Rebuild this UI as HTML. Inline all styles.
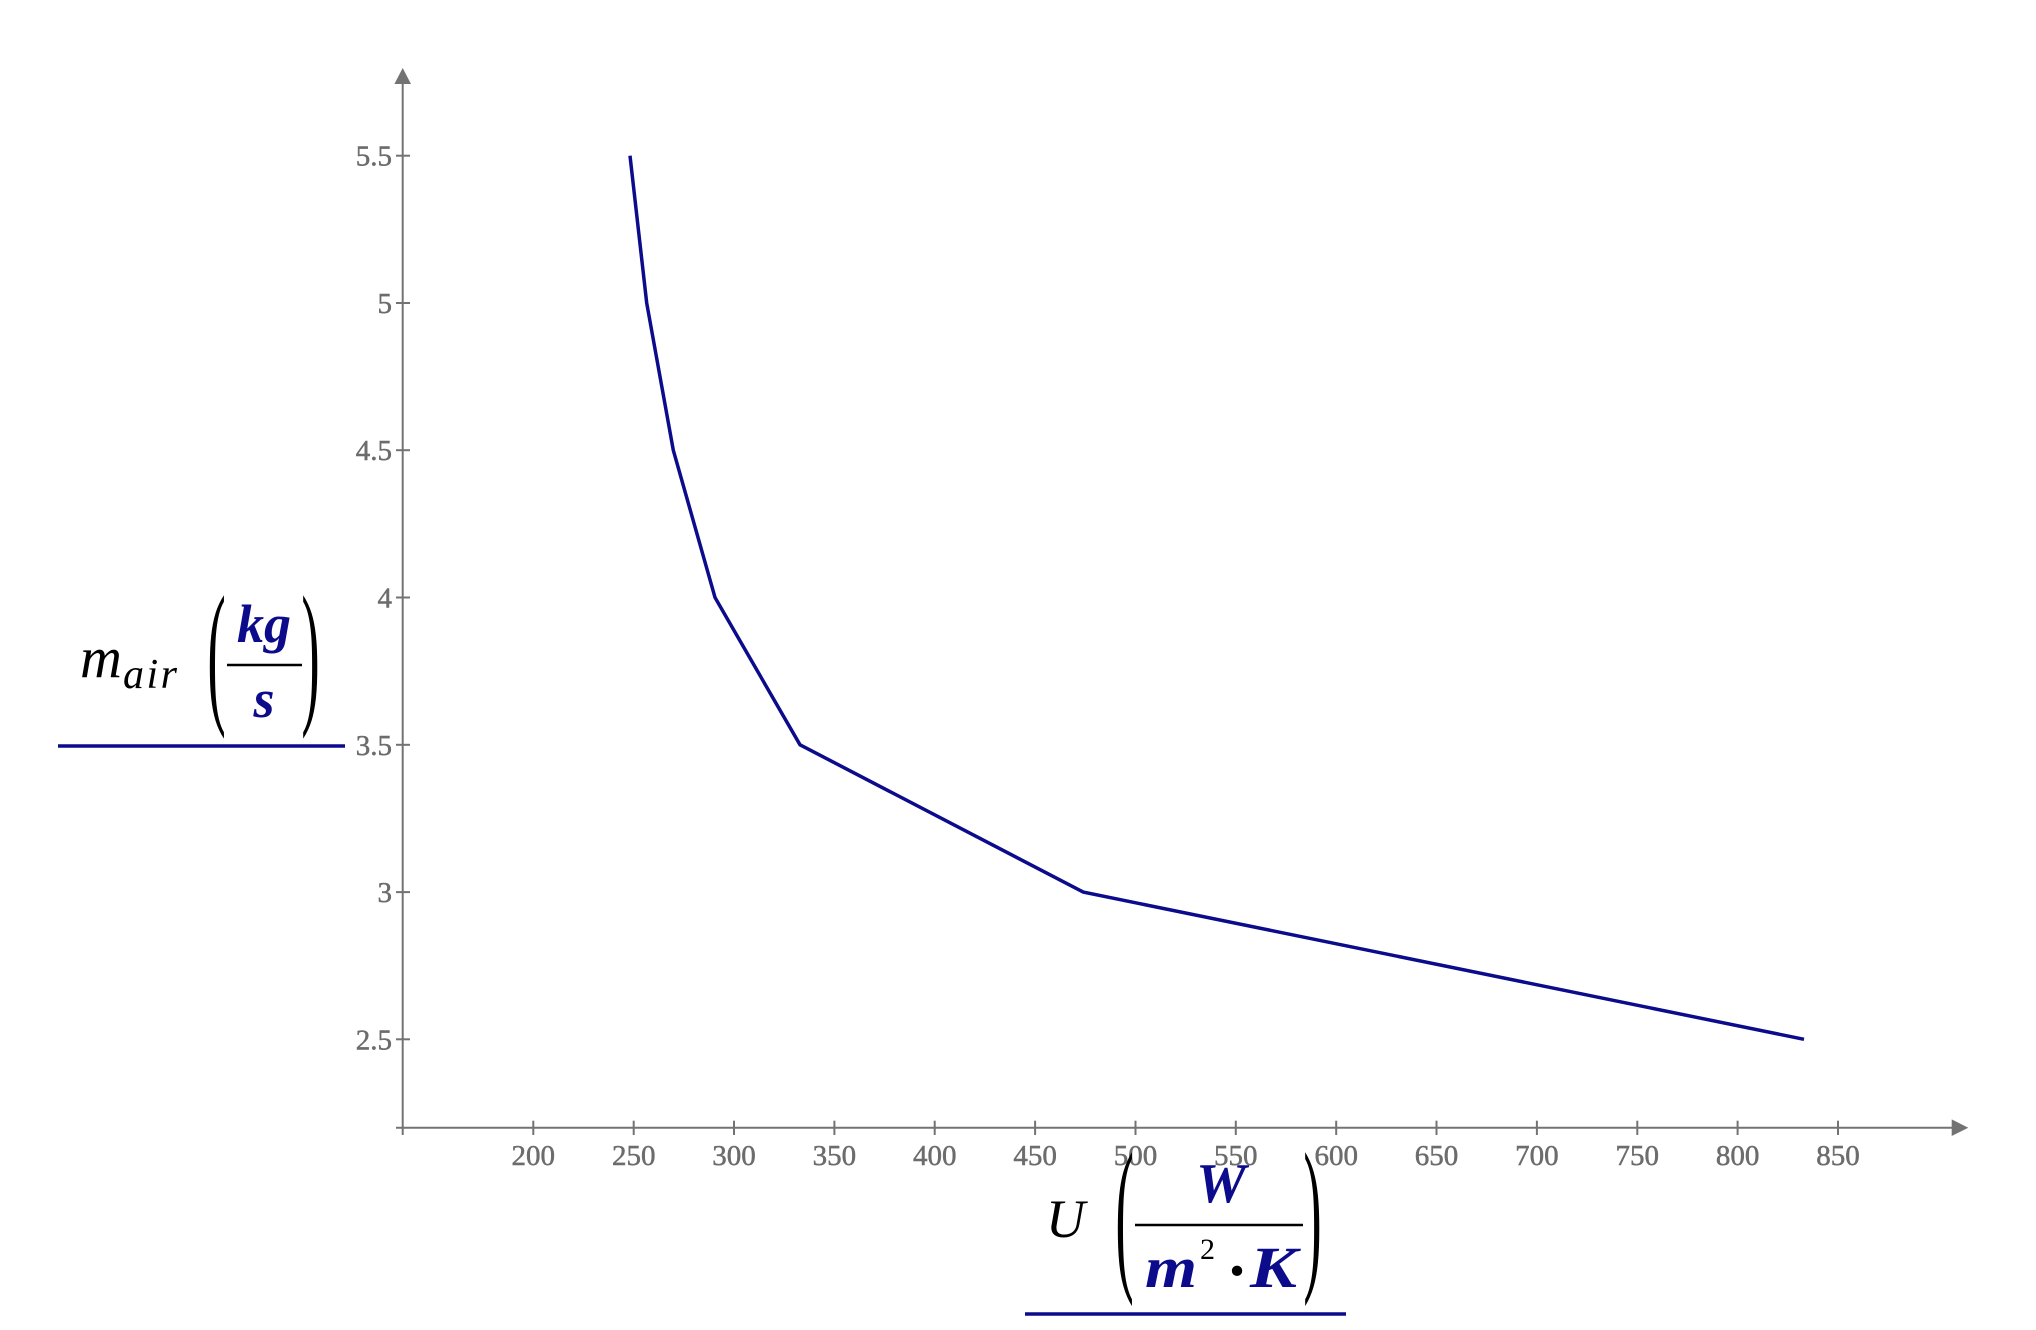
<!DOCTYPE html>
<html>
<head>
<meta charset="utf-8">
<style>
html,body{margin:0;padding:0;background:#ffffff;}
body{width:2036px;height:1330px;overflow:hidden;}
svg{display:block;}
</style>
</head>
<body>
<svg width="2036" height="1330" viewBox="0 0 2036 1330" xmlns="http://www.w3.org/2000/svg">
<rect x="0" y="0" width="2036" height="1330" fill="#ffffff"/>
<g stroke="#737373" stroke-width="2" fill="none">
  <line x1="402.7" y1="80" x2="402.7" y2="1135"/>
  <line x1="396" y1="1127.7" x2="1955" y2="1127.7"/>
  <line x1="396" y1="155.7" x2="410" y2="155.7"/>
  <line x1="396" y1="303" x2="410" y2="303"/>
  <line x1="396" y1="450.2" x2="410" y2="450.2"/>
  <line x1="396" y1="597.5" x2="410" y2="597.5"/>
  <line x1="396" y1="744.8" x2="410" y2="744.8"/>
  <line x1="396" y1="892.1" x2="410" y2="892.1"/>
  <line x1="396" y1="1039.3" x2="410" y2="1039.3"/>
  <line x1="533.3" y1="1120.7" x2="533.3" y2="1135"/>
  <line x1="633.7" y1="1120.7" x2="633.7" y2="1135"/>
  <line x1="734.0" y1="1120.7" x2="734.0" y2="1135"/>
  <line x1="834.4" y1="1120.7" x2="834.4" y2="1135"/>
  <line x1="934.7" y1="1120.7" x2="934.7" y2="1135"/>
  <line x1="1035.1" y1="1120.7" x2="1035.1" y2="1135"/>
  <line x1="1135.5" y1="1120.7" x2="1135.5" y2="1135"/>
  <line x1="1235.8" y1="1120.7" x2="1235.8" y2="1135"/>
  <line x1="1336.2" y1="1120.7" x2="1336.2" y2="1135"/>
  <line x1="1436.5" y1="1120.7" x2="1436.5" y2="1135"/>
  <line x1="1536.9" y1="1120.7" x2="1536.9" y2="1135"/>
  <line x1="1637.3" y1="1120.7" x2="1637.3" y2="1135"/>
  <line x1="1737.6" y1="1120.7" x2="1737.6" y2="1135"/>
  <line x1="1838.0" y1="1120.7" x2="1838.0" y2="1135"/>
</g>
<polygon points="402.7,68 394.4,84 411,84" fill="#737373"/>
<polygon points="1968.3,1127.7 1951.7,1119.4 1951.7,1136" fill="#737373"/>

<g font-family="'Liberation Serif', serif" font-size="29" fill="#6c6c6c" stroke="#6c6c6c" stroke-width="0.5" text-anchor="end">
  <text x="392" y="165.7">5.5</text>
  <text x="392" y="313">5</text>
  <text x="392" y="460.2">4.5</text>
  <text x="392" y="607.5">4</text>
  <text x="392" y="754.8">3.5</text>
  <text x="392" y="902.1">3</text>
  <text x="392" y="1049.3">2.5</text>
</g>
<g font-family="'Liberation Serif', serif" font-size="29" fill="#6c6c6c" stroke="#6c6c6c" stroke-width="0.5" text-anchor="middle">
  <text x="533.3" y="1165">200</text>
  <text x="633.7" y="1165">250</text>
  <text x="734.0" y="1165">300</text>
  <text x="834.4" y="1165">350</text>
  <text x="934.7" y="1165">400</text>
  <text x="1035.1" y="1165">450</text>
  <text x="1135.5" y="1165">500</text>
  <text x="1235.8" y="1165">550</text>
  <text x="1336.2" y="1165">600</text>
  <text x="1436.5" y="1165">650</text>
  <text x="1536.9" y="1165">700</text>
  <text x="1637.3" y="1165">750</text>
  <text x="1737.6" y="1165">800</text>
  <text x="1838.0" y="1165">850</text>
</g>

<polyline points="630,155.7 646.7,303 673.3,450.2 715,597.5 800,744.8 1083.3,892.1 1804,1039.3" fill="none" stroke="#0b0b8c" stroke-width="3.5" stroke-linejoin="miter"/>

<!-- Y legend -->
<g font-family="'Liberation Serif', serif">
  <text x="80" y="677" font-style="italic" font-size="58" fill="#000">m</text>
  <text x="123" y="688" font-style="italic" font-size="42" fill="#000" textLength="54" lengthAdjust="spacing">air</text>
  <text transform="translate(207.4,705) scale(1,2.877)" font-size="55" fill="#000">(</text>
  <text transform="translate(301.4,705) scale(1,2.877)" font-size="55" fill="#000">)</text>
  <text x="264" y="642" font-style="italic" font-weight="bold" font-size="54" fill="#0b0b8c" text-anchor="middle">kg</text>
  <text x="264" y="717" font-style="italic" font-weight="bold" font-size="54" fill="#0b0b8c" text-anchor="middle">s</text>
</g>
<line x1="227" y1="665" x2="302" y2="665" stroke="#000" stroke-width="2.5"/>
<line x1="58" y1="746" x2="345" y2="746" stroke="#0b0b8c" stroke-width="3.5"/>

<!-- X legend -->
<g font-family="'Liberation Serif', serif">
  <text x="1046" y="1237" font-style="italic" font-size="54" fill="#000">U</text>
  <text transform="translate(1115.4,1270) scale(1,3.09)" font-size="55" fill="#000">(</text>
  <text transform="translate(1303.4,1270) scale(1,3.09)" font-size="55" fill="#000">)</text>
  <text x="1221" y="1202" font-style="italic" font-weight="bold" font-size="56" fill="#0b0b8c" text-anchor="middle">W</text>
  <text x="1145" y="1287" font-style="italic" font-weight="bold" font-size="58" fill="#0b0b8c" textLength="52" lengthAdjust="spacingAndGlyphs">m</text>
  <text x="1200" y="1259" font-size="30" fill="#000">2</text>
  <text x="1237" y="1292" font-weight="bold" font-size="64" fill="#000" text-anchor="middle">·</text>
  <text x="1250" y="1287" font-style="italic" font-weight="bold" font-size="58" fill="#0b0b8c" textLength="47" lengthAdjust="spacingAndGlyphs">K</text>
</g>
<line x1="1135" y1="1225" x2="1303" y2="1225" stroke="#000" stroke-width="2.5"/>
<line x1="1025" y1="1314" x2="1346" y2="1314" stroke="#0b0b8c" stroke-width="3.5"/>
</svg>
</body>
</html>
